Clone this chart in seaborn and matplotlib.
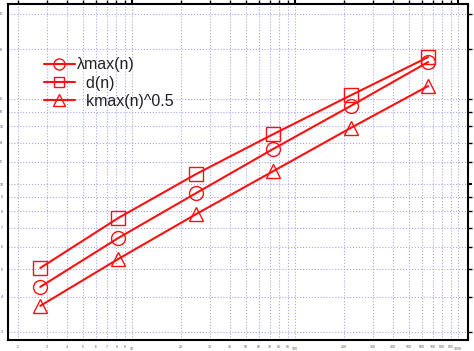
import numpy as np
import pandas as pd
import matplotlib
matplotlib.use("Agg")
import matplotlib.pyplot as plt
import matplotlib.ticker as mticker
import seaborn as sns

# data
n_values = [2.73, 8.2, 24.7, 73.3, 220, 655]
lambda_max = [4.33, 6.44, 9.29, 13.3, 18.9, 27.0]
d_n = [5.05, 7.58, 10.85, 15.0, 20.6, 28.1]
kmax_sqrt = [3.71, 5.43, 7.83, 11.1, 15.8, 22.2]
series_labels = ["\u03bbmax(n)", "  d(n)", "  kmax(n)^0.5"]
x_major_ticks = [10, 100, 1000]
y_minor_ticks = [3, 4, 5, 6, 7, 8, 9, 12, 14, 16, 18, 20, 30, 40]
y_major_ticks = [10]

sns.set_style("white")
plt.rcParams["font.family"] = ["Liberation Sans", "DejaVu Sans"]

fig = plt.figure(figsize=(4.74, 3.51), dpi=100)
ax = fig.add_axes([8 / 474, 11 / 351, 460 / 474, 336 / 351])

red = "#ff1010"
markers = ["o", "s", "^"]
msizes = [10, 9.5, 10]
series = [lambda_max, d_n, kmax_sqrt]
handles = []
for vals, mk, ms, lab in zip(series, markers, msizes, series_labels):
    df = pd.DataFrame({"n": n_values, "v": vals})
    sns.lineplot(data=df, x="n", y="v", ax=ax, color=red, linewidth=1.5,
                 marker=mk, markersize=ms, markerfacecolor="none",
                 markeredgecolor=red, markeredgewidth=1.0, label=lab,
                 legend=False)
    line = ax.get_lines()[-1]
    line.set_fillstyle("none")
    line.set_markerfacecolor("none")
    line.set_markeredgecolor(red)
    handles.append(line)

ax.set_xscale("log")
ax.set_yscale("log")
ax.set_xlim(1.73, 1151)
ax.set_ylim(2.81, 43.3)

ax.xaxis.set_major_locator(mticker.FixedLocator(x_major_ticks))
ax.xaxis.set_minor_locator(mticker.LogLocator(base=10, subs=np.arange(2, 10), numticks=20))
ax.yaxis.set_major_locator(mticker.FixedLocator(y_major_ticks))
ax.yaxis.set_minor_locator(mticker.FixedLocator(y_minor_ticks))

fmt = mticker.FuncFormatter(lambda v, p: f"{v:g}")
for axis in (ax.xaxis, ax.yaxis):
    axis.set_major_formatter(fmt)
    axis.set_minor_formatter(fmt)

ax.tick_params(which="both", direction="out", top=True, right=True,
               labelsize=2.5, labelcolor="#555555", pad=0.5, color="black")
ax.tick_params(which="major", length=4.5, width=1.5)
ax.tick_params(which="minor", length=3, width=1.0)
ax.yaxis.set_tick_params(which="major", length=3, width=1.5, pad=0.3)

ax.grid(True, which="both", color="#a8a8f0", linestyle=":", linewidth=0.8)
for sp in ax.spines.values():
    sp.set_visible(True)
    sp.set_color("black")
    sp.set_linewidth(1.5)

ax.set_xlabel("")
ax.set_ylabel("")

leg = ax.legend(handles=handles, labels=series_labels, loc="upper left",
                bbox_to_anchor=(0.065, 0.86), frameon=False, fontsize=11.5,
                handlelength=1.9, handletextpad=0.15, labelspacing=0.2,
                borderaxespad=0, markerscale=0.8)
for t in leg.get_texts():
    t.set_color("#222222")

fig.savefig("out.png", dpi=100)
